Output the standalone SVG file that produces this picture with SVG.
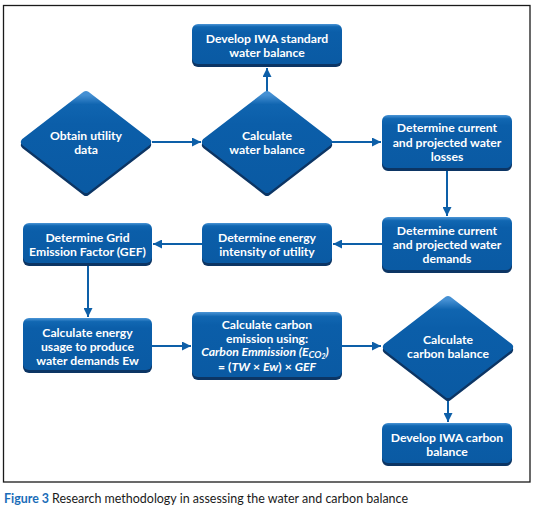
<svg xmlns="http://www.w3.org/2000/svg" width="534" height="512" viewBox="0 0 534 512">
<defs>
<style>
.t{font-family:Lato,"Liberation Sans",Arial,sans-serif;font-weight:bold;font-size:12.2px;fill:#fff;text-anchor:middle}
.sh{fill:#0c3564}
.face{fill:url(#g)}
.dsh{fill:#0c3564;stroke:#0c3564}
.dface{fill:url(#gd);stroke:url(#gd)}
.c{stroke:#0d5fa8;stroke-width:2;fill:none;marker-end:url(#ah)}
.cap{font-family:Lato,"Liberation Sans",Arial,sans-serif;font-size:14px}
</style>
<linearGradient id="g" x1="0" y1="0" x2="0" y2="1">
<stop offset="0" stop-color="#4b95d6"/>
<stop offset="0.07" stop-color="#1167b2"/>
<stop offset="0.2" stop-color="#0b5ea9"/>
<stop offset="1" stop-color="#0a5aa3"/>
</linearGradient>
<linearGradient id="gd" x1="0" y1="0" x2="0" y2="1">
<stop offset="0" stop-color="#4590d3"/>
<stop offset="0.1" stop-color="#1065b0"/>
<stop offset="0.3" stop-color="#0b5ea9"/>
<stop offset="1" stop-color="#0a5aa3"/>
</linearGradient>
<marker id="ah" viewBox="0 0 10 10" refX="10" refY="5" markerWidth="10" markerHeight="9" markerUnits="userSpaceOnUse" orient="auto">
<path d="M0,0 L10,5 L0,10 z" fill="#0d5fa8"/>
</marker>
<path id="dm" d="M-61,0 L0,-47 L61,0 L0,47 Z" stroke-linejoin="round" stroke-width="8"/>
</defs>

<rect x="3.5" y="5.5" width="526.5" height="476.5" fill="#fff" stroke="#1a1a1a" stroke-width="1.3"/>

<g id="connectors">
<path class="c" d="M267,92 V68"/>
<path class="c" d="M152,142 H201"/>
<path class="c" d="M332,142 H381"/>
<path class="c" d="M447,171 V216"/>
<path class="c" d="M382,244 H333"/>
<path class="c" d="M202,244 H153"/>
<path class="c" d="M88,266 V317"/>
<path class="c" d="M152,346 H191"/>
<path class="c" d="M342,346 H381"/>
<path class="c" d="M448,397 V422"/>
</g>

<g id="n-iwa-water">
<rect class="sh" x="192" y="27" width="150" height="40" rx="6"/>
<rect class="face" x="192" y="24" width="150" height="40" rx="6"/>
<text class="t" x="267"><tspan x="267" y="42.5">Develop IWA standard</tspan><tspan x="267" y="57">water balance</tspan></text>
</g>

<g id="n-obtain">
<use href="#dm" class="dsh" transform="translate(86,145)"/>
<use href="#dm" class="dface" transform="translate(86,142)"/>
<text class="t"><tspan x="86" y="139.5">Obtain utility</tspan><tspan x="86" y="153.5">data</tspan></text>
</g>

<g id="n-calc-water">
<use href="#dm" class="dsh" transform="translate(267,145)"/>
<use href="#dm" class="dface" transform="translate(267,142)"/>
<text class="t"><tspan x="267" y="140">Calculate</tspan><tspan x="267" y="154">water balance</tspan></text>
</g>

<g id="n-losses">
<rect class="sh" x="382" y="118" width="130" height="53" rx="6"/>
<rect class="face" x="382" y="115" width="130" height="53" rx="6"/>
<text class="t"><tspan x="447" y="132">Determine current</tspan><tspan x="447" y="146.5">and projected water</tspan><tspan x="447" y="161">losses</tspan></text>
</g>

<g id="n-demands">
<rect class="sh" x="382" y="220" width="130" height="53" rx="6"/>
<rect class="face" x="382" y="217" width="130" height="53" rx="6"/>
<text class="t"><tspan x="447" y="235">Determine current</tspan><tspan x="447" y="249">and projected water</tspan><tspan x="447" y="263">demands</tspan></text>
</g>

<g id="n-intensity">
<rect class="sh" x="202" y="226" width="130" height="40" rx="6"/>
<rect class="face" x="202" y="223" width="130" height="40" rx="6"/>
<text class="t"><tspan x="267" y="241.5">Determine energy</tspan><tspan x="267" y="256">intensity of utility</tspan></text>
</g>

<g id="n-gef">
<rect class="sh" x="23" y="226" width="129" height="40" rx="6"/>
<rect class="face" x="23" y="223" width="129" height="40" rx="6"/>
<text class="t"><tspan x="87.5" y="241.5">Determine Grid</tspan><tspan x="87.5" y="256">Emission Factor (GEF)</tspan></text>
</g>

<g id="n-energy-usage">
<rect class="sh" x="23" y="321" width="129" height="52" rx="6"/>
<rect class="face" x="23" y="318" width="129" height="52" rx="6"/>
<text class="t"><tspan x="87.5" y="337">Calculate energy</tspan><tspan x="87.5" y="351">usage to produce</tspan><tspan x="87.5" y="365">water demands Ew</tspan></text>
</g>

<g id="n-carbon-emission">
<rect class="sh" x="192" y="315" width="150" height="65" rx="6"/>
<rect class="face" x="192" y="312" width="150" height="65" rx="6"/>
<text class="t"><tspan x="267" y="329">Calculate carbon</tspan><tspan x="267" y="342.5">emission using:</tspan></text>
<text class="t" x="265" y="356" font-style="italic">Carbon Emmission (E<tspan font-size="9.5" dy="1.5">CO</tspan><tspan font-size="7" dy="1">2</tspan><tspan dy="-2.5">)</tspan></text>
<text class="t" x="267" y="370.5">= (<tspan font-style="italic">TW</tspan> × <tspan font-style="italic">Ew</tspan>) × <tspan font-style="italic">GEF</tspan></text>
</g>

<g id="n-calc-carbon">
<use href="#dm" class="dsh" transform="translate(448,350)"/>
<use href="#dm" class="dface" transform="translate(448,347)"/>
<text class="t"><tspan x="448" y="344">Calculate</tspan><tspan x="448" y="358">carbon balance</tspan></text>
</g>

<g id="n-iwa-carbon">
<rect class="sh" x="382" y="426" width="130" height="40" rx="6"/>
<rect class="face" x="382" y="423" width="130" height="40" rx="6"/>
<text class="t"><tspan x="447" y="442">Develop IWA carbon</tspan><tspan x="447" y="456">balance</tspan></text>
</g>

<text class="cap" x="4" y="503" font-weight="bold" fill="#1b6db8" textLength="45" lengthAdjust="spacingAndGlyphs">Figure 3</text>
<text class="cap" x="52" y="503" fill="#1a1a1a" textLength="356" lengthAdjust="spacingAndGlyphs">Research methodology in assessing the water and carbon balance</text>
</svg>
